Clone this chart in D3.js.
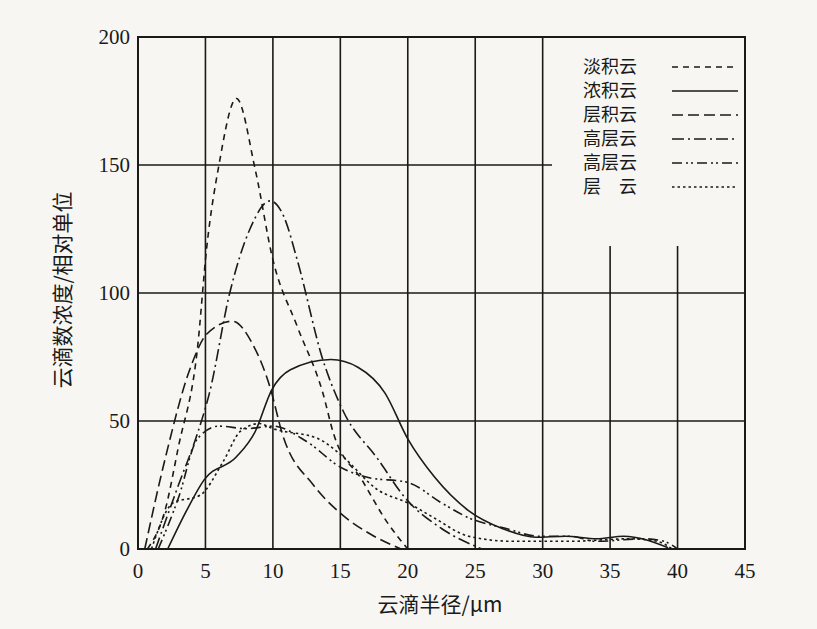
<!DOCTYPE html>
<html><head><meta charset="utf-8">
<script src="https://cdn.jsdelivr.net/npm/d3@7"></script>
<style>body{margin:0;background:#f7f6f2}</style>
</head><body>
<svg id="c" width="817" height="629"></svg>
<script>
// series: [radius µm, relative concentration]
const danji = [[0.7,0],[2,15],[3,40],[4.4,78],[5.1,118],[6,150],[7.3,176],[8.7,148],[10,113],[11.8,87],[13.7,61],[14.5,45],[16.6,27],[18.4,11],[20,0]];
const nongji = [[2.2,0],[3.6,15],[4.9,27],[7.3,36],[8.7,46],[9.9,62],[11.3,70],[14.3,74],[16.3,71],[18.3,61],[20,43],[22,28],[24.5,15],[27,8],[29.5,4.6],[31.7,5],[34,4],[36,5],[39.3,0.5]];
const cengji = [[0.5,0],[2,35],[3.9,71],[5.1,84],[7,89],[8.5,80],[9.8,63],[10.7,45],[13,25],[15,14],[17.5,5],[19.5,0]];
const gaoceng1 = [[1.3,0],[3,25],[4.4,45],[5.3,61],[6.8,100],[8.3,125],[9.8,136],[10.8,130],[11.8,113],[13.7,74],[15.2,54],[17.8,35],[19.8,20],[22.5,8],[25.5,0]];
const gaoceng2 = [[1.5,0],[3,20],[4.4,43],[6,48],[8,47],[10,48],[12.5,42],[15,32],[17,28],[20,26],[22.5,18],[24.6,12],[27.3,8],[29.7,5],[32,5],[34,3],[37.5,4],[39,3],[40,0]];
const ceng = [[1,0],[2.6,18],[4.6,21],[6.3,34],[7.6,46],[9,49],[10,47],[13.4,43],[15,37],[17.8,23],[20,18],[22,12],[24.5,5],[27.8,3],[32,3],[36.4,4],[38.5,3],[39.6,0]];

const seriesNames = ["淡积云","浓积云","层积云","高层云","高层云","层　云"];
const seriesData = [danji, nongji, cengji, gaoceng1, gaoceng2, ceng];
const dashes = ["6,5","none","11,5","12,4,2,4","10,4,2,3,2,4","2.5,3"];
const xTicks = [0,5,10,15,20,25,30,35,40,45];
const yTicks = [0,50,100,150,200];

const svg = d3.select("#c");
const L=138,R=745,T=37,B=549;
const x = d3.scaleLinear().domain([0,45]).range([L,R]);
const y = d3.scaleLinear().domain([0,200]).range([B,T]);
const ink="#1a1a1a";

// grid
const g = svg.append("g").attr("stroke",ink).attr("stroke-width",1.6);
d3.range(5,45,5).forEach(v=>g.append("line").attr("x1",x(v)).attr("x2",x(v)).attr("y1",T).attr("y2",B));
d3.range(50,200,50).forEach(v=>g.append("line").attr("x1",L).attr("x2",R).attr("y1",y(v)).attr("y2",y(v)));
// legend white area
const lx=552, ly=T+1;
svg.append("rect").attr("x",lx).attr("y",ly).attr("width",R-lx-1).attr("height",208).attr("fill","#f7f6f2");
svg.append("rect").attr("x",L).attr("y",T).attr("width",R-L).attr("height",B-T)
  .attr("fill","none").attr("stroke",ink).attr("stroke-width",2);

const line = d3.line().x(d=>x(d[0])).y(d=>y(d[1])).curve(d3.curveMonotoneX);
seriesData.forEach((s,i)=>svg.append("path").attr("d",line(s)).attr("fill","none")
  .attr("stroke",ink).attr("stroke-width",1.6).attr("stroke-dasharray",dashes[i]));

// legend
seriesNames.forEach((n,i)=>{
  const yy=ly+29+i*24;
  svg.append("text").attr("x",583).attr("y",yy+6).text(n)
    .attr("font-family","Noto Sans CJK SC").attr("font-size",18).attr("fill",ink);
  svg.append("line").attr("x1",672).attr("x2",738).attr("y1",yy).attr("y2",yy)
    .attr("stroke",ink).attr("stroke-width",1.6).attr("stroke-dasharray",dashes[i]);
});

// axes labels
const tf="Liberation Serif";
svg.selectAll(".xt").data(xTicks).join("text").attr("x",d=>x(d)).attr("y",B+29)
  .attr("text-anchor","middle").attr("font-family",tf).attr("font-size",21).attr("fill",ink).text(d=>d);
svg.selectAll(".yt").data(yTicks).join("text").attr("x",L-8).attr("y",d=>y(d)+7)
  .attr("text-anchor","end").attr("font-family",tf).attr("font-size",21).attr("fill",ink).text(d=>d);
svg.append("text").attr("x",440).attr("y",612).attr("text-anchor","middle")
  .attr("font-family","Noto Sans CJK SC").attr("font-size",21).attr("fill",ink).text("云滴半径/μm");
svg.append("text").attr("transform","translate(70,290) rotate(-90)").attr("text-anchor","middle")
  .attr("font-family","Noto Sans CJK SC").attr("font-size",21).attr("fill",ink).text("云滴数浓度/相对单位");
</script>
</body></html>
